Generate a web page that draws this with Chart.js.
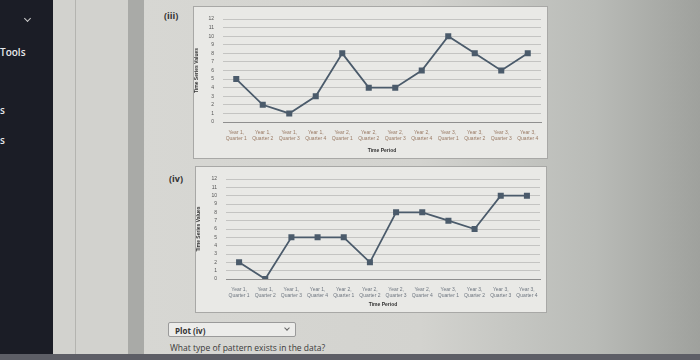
<!doctype html>
<html lang="en">
<head>
  <meta charset="UTF-8">
  <title>Time series plots</title>
  <script src="https://cdn.jsdelivr.net/npm/chart.js@4.4.0/dist/chart.umd.min.js"></script>
  <style>
      html, body { margin: 0; padding: 0; }
      body {
          width: 700px; height: 360px; position: relative; overflow: hidden;
          font-family: "Open Sans", "DejaVu Sans", sans-serif;
          background: linear-gradient(90deg, #d9d9d5 0%, #d3d3cf 60%, #b9bbb7 85%, #9fa19d 100%);
      }
      .sidebar { position: absolute; left: 0; top: 0; width: 53px; height: 360px; background: #1b1d26; color: #e8e8ec; }
      .sidebar .t { position: absolute; left: 0; font-size: 10px; font-weight: 600; }
      .chev { position: absolute; left: 25px; top: 16px; width: 4px; height: 4px; border-right: 1.5px solid #ccc; border-bottom: 1.5px solid #ccc; transform: rotate(45deg); }
      .strip { position: absolute; left: 53px; top: 0; width: 75px; height: 360px; background: #d2d2ce; }
      .strip .ln { position: absolute; left: 22px; top: 0; width: 1px; height: 360px; background: #b4b4b0; }
      .bar { position: absolute; left: 128px; top: 0; width: 16px; height: 360px; background: #a9aaa7; }
      .lbl { position: absolute; font-size: 9px; font-weight: 700; color: #333; }
      .box { position: absolute; border: 1px solid #a8a8a6; background: #e9e9e6; }
      .box canvas { display: block; }
      .sel { position: absolute; left: 168px; top: 322px; width: 128px; height: 15px; border: 1px solid #9a9a9a; border-radius: 2px; background: #ececea; font-size: 8px; font-weight: 700; color: #333; box-sizing: border-box; padding: 2px 0 0 6px; }
      .sel .c { position: absolute; right: 6px; top: 3px; width: 3px; height: 3px; border-right: 1px solid #666; border-bottom: 1px solid #666; transform: rotate(45deg); }
      .q { position: absolute; left: 170px; top: 342px; font-size: 8.5px; color: #3a3a3a; }
      .bottom { position: absolute; left: 0; top: 354px; width: 700px; height: 6px; background: #5d5e66; }
  </style>
</head>
<body>

<div class="sidebar">
  <div class="chev"></div>
  <div class="t" style="top:45px">Tools</div>
  <div class="t" style="top:103px">s</div>
  <div class="t" style="top:133px">s</div>
</div>
<div class="strip"><div class="ln"></div></div>
<div class="bar"></div>

<div class="lbl" style="left:164px; top:9px">(iii)</div>
<div class="box" style="left:193px; top:6px; width:353px; height:151px">
  <canvas id="plot3" width="353" height="151"></canvas>
</div>

<div class="lbl" style="left:169px; top:172px">(iv)</div>
<div class="box" style="left:195px; top:166px; width:350px; height:145px">
  <canvas id="plot4" width="350" height="145"></canvas>
</div>

<div class="sel">Plot (iv)<div class="c"></div></div>
<div class="q">What type of pattern exists in the data?</div>
<div class="bottom"></div>

<script>
  const periods = [
    ['Year 1,', 'Quarter 1'], ['Year 1,', 'Quarter 2'], ['Year 1,', 'Quarter 3'], ['Year 1,', 'Quarter 4'],
    ['Year 2,', 'Quarter 1'], ['Year 2,', 'Quarter 2'], ['Year 2,', 'Quarter 3'], ['Year 2,', 'Quarter 4'],
    ['Year 3,', 'Quarter 1'], ['Year 3,', 'Quarter 2'], ['Year 3,', 'Quarter 3'], ['Year 3,', 'Quarter 4']
  ]
  const plot3Values = [5, 2, 1, 3, 8, 4, 4, 6, 10, 8, 6, 8]
  const plot4Values = [2, 0, 5, 5, 5, 2, 8, 8, 7, 6, 10, 10]

  const lineColor = '#4b5b6b'

  function makePlot(id, values, leftW, bottomH, tickColor) {
    return new Chart(document.getElementById(id), {
      type: 'line',
      data: {
        labels: periods,
        datasets: [{
          data: values,
          borderColor: lineColor,
          backgroundColor: lineColor,
          borderWidth: 1.8,
          pointStyle: 'rect',
          pointRadius: 3,
          tension: 0
        }]
      },
      options: {
        responsive: false,
        animation: false,
        layout: { padding: { top: 8, right: 6, left: 0, bottom: 0 } },
        plugins: { legend: { display: false }, tooltip: { enabled: false } },
        scales: {
          x: {
            offset: true,
            grid: { display: false, drawTicks: false },
            border: { color: '#8f8f8f' },
            ticks: { font: { size: 5, family: 'Liberation Sans' }, color: tickColor, maxRotation: 0, autoSkip: false, padding: 8 },
            title: { display: true, text: 'Time Period', font: { size: 5, weight: 'bold', family: 'Liberation Sans' }, color: '#333', padding: { top: 4 } },
            afterFit: (s) => { s.height = bottomH }
          },
          y: {
            min: 0, max: 12,
            grid: { color: '#c4c4c2', drawTicks: false },
            border: { display: false },
            ticks: { stepSize: 1, autoSkip: false, font: { size: 5, family: 'Liberation Sans' }, color: '#555', padding: 9 },
            title: { display: true, text: 'Time Series Values', font: { size: 5, weight: 'bold', family: 'Liberation Sans' }, color: '#333', padding: 0 },
            afterFit: (s) => { s.width = leftW }
          }
        }
      }
    })
  }

  makePlot('plot3', plot3Values, 29, 36, '#9a7a64')
  makePlot('plot4', plot4Values, 30, 33, '#6f7781')
</script>

</body>
</html>
